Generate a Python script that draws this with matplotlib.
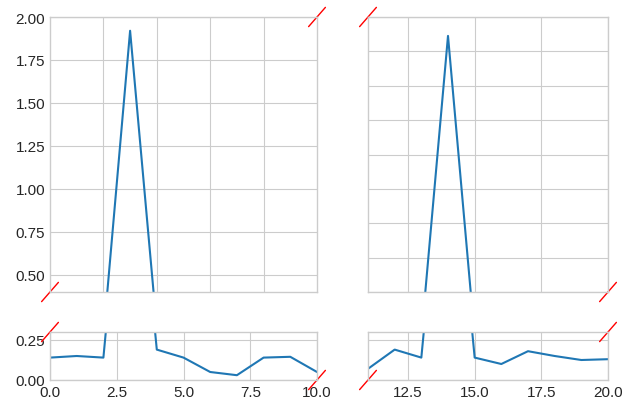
import numpy as np
import matplotlib.pyplot as plt

plt.style.use("seaborn-v0_8-whitegrid")

x_left = [0, 1, 2, 3, 4, 5, 6, 7, 8, 9, 10]
y_left = [0.14, 0.15, 0.14, 1.92, 0.19, 0.14, 0.05, 0.03, 0.14, 0.145, 0.05]
x_right = [11, 12, 13, 14, 15, 16, 17, 18, 19, 20]
y_right = [0.07, 0.19, 0.14, 1.89, 0.14, 0.10, 0.18, 0.15, 0.125, 0.13]

fig = plt.figure(figsize=(6.36, 4.14), dpi=100)
W, H = 636, 414


def box(x0, y0, x1, y1):
    return [x0 / W, 1 - y1 / H, (x1 - x0) / W, (y1 - y0) / H]


ax_tl = fig.add_axes(box(50, 18, 317, 293))
ax_bl = fig.add_axes(box(50, 333, 317, 381))
ax_tr = fig.add_axes(box(368, 18, 608, 293))
ax_br = fig.add_axes(box(368, 333, 608, 381))

for ax in (ax_tl, ax_bl):
    ax.plot(x_left, y_left, color="#1f77b4")
    ax.set_xlim(0, 10)
ax_tl.set_xticks([2, 4, 6, 8])
ax_bl.set_xticks([0, 2.5, 5, 7.5, 10])
for ax in (ax_tr, ax_br):
    ax.plot(x_right, y_right, color="#1f77b4")
    ax.set_xlim(11, 20)
    ax.set_xticks([12.5, 15, 17.5, 20])

ax_tl.set_ylim(0.4, 2.0)
ax_tl.set_yticks(np.arange(0.5, 2.01, 0.25))
ax_tr.set_ylim(0.4, 2.0)
ax_tr.set_yticks(np.arange(0.4, 2.01, 0.2))
ax_bl.set_ylim(0, 0.3)
ax_br.set_ylim(0, 0.3)
ax_bl.set_yticks([0.0, 0.25])
ax_br.set_yticks([0.0, 0.25])

ax_tl.tick_params(labelbottom=False)
ax_tr.tick_params(labelbottom=False, labelleft=False)
ax_br.tick_params(labelleft=False)

for ax in (ax_tl, ax_bl, ax_tr, ax_br):
    ax.tick_params(labelsize=11)

d = 0.035
kw = dict(color="red", clip_on=False, lw=1)


def mark(ax, cx, cy, sx, sy):
    ax.plot([cx - sx, cx + sx], [cy - sy, cy + sy], transform=ax.transAxes, **kw)


mark(ax_tl, 1, 1, d * 240 / 267, d * 1.0)
mark(ax_tl, 0, 0, d * 240 / 267, d * 1.0)
mark(ax_tr, 0, 1, d, d)
mark(ax_tr, 1, 0, d, d)
mark(ax_bl, 0, 1, d * 240 / 267, d * 275 / 48)
mark(ax_bl, 1, 0, d * 240 / 267, d * 275 / 48)
mark(ax_br, 0, 0, d, d * 275 / 48)
mark(ax_br, 1, 1, d, d * 275 / 48)

fig.savefig("out.png", dpi=100)
